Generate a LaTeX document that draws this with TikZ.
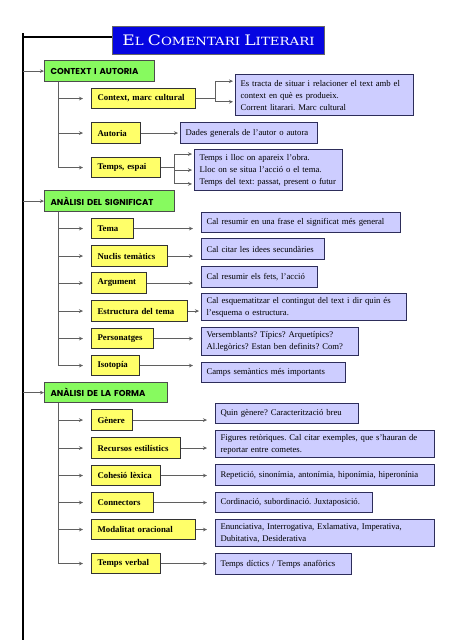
\documentclass[tikz,border=0pt]{standalone}
\usepackage{fontspec}
\setmainfont{Liberation Serif}
\newfontfamily\secfont{Poppins}
\newfontfamily\titlefont{DejaVu Serif}
\usetikzlibrary{arrows.meta,calc}
\definecolor{titlefill}{RGB}{5,5,225}
\definecolor{secfill}{RGB}{135,250,95}
\definecolor{subfill}{RGB}{255,255,105}
\definecolor{notefill}{RGB}{205,205,255}
\definecolor{notedraw}{RGB}{45,45,90}
\definecolor{linegray}{RGB}{95,95,95}
\newcommand{\tcap}[1]{{\fontsize{14.5}{15}\selectfont #1}}
\frenchspacing
\hyphenpenalty=10000
\tikzset{
  titlebox/.style={rectangle,draw=black!60,fill=titlefill,line width=1pt,anchor=north west,minimum width=212,minimum height=28,text=white,font=\titlefont\fontsize{11.3}{12}\selectfont},
  section/.style={rectangle,draw=black!70,fill=secfill,line width=1.2pt,anchor=north west,inner xsep=6pt,inner ysep=2pt,align=left,font=\secfont\bfseries\fontsize{8.6}{10}\selectfont},
  sub/.style={rectangle,draw=black!80,fill=subfill,line width=1.1pt,anchor=north west,inner xsep=6pt,inner ysep=2pt,align=left,font=\bfseries\fontsize{8.8}{10.5}\selectfont},
  note/.style={rectangle,draw=notedraw,fill=notefill,line width=1.1pt,anchor=north west,inner xsep=5pt,inner ysep=2pt,align=left,font=\fontsize{8.7}{12}\selectfont},
  trunk/.style={draw=black,line width=1.2pt},
  conn/.style={draw=linegray,line width=0.9pt},
  tip/.style={conn,-{Stealth[length=4pt,width=3.6pt]}},
  gap/.style={shorten >=8pt},
  near/.style={shorten >=2pt}
}
\begin{document}
\begin{tikzpicture}[x=1pt,y=-1pt]
  \useasboundingbox (0,0) rectangle (452,640);

  % --- Title and main trunk ---
  \node[titlebox] (T) at (112,26) {\scalebox{1.18}[1]{\tcap{E}L \tcap{C}OMENTARI \tcap{L}ITERARI}};
  \coordinate (top) at (23,33);
  \coordinate (bot) at (23,640);
  \coordinate (tj)  at (23,37);
  \draw[trunk] (top) -- (bot);
  \draw[trunk] (tj) -- (tj -| T.west);

  % --- Section headings ---
  \node[section, text width=98,  minimum height=21] (S1) at (44,60)  {CONTEXT I AUTORIA};
  \node[section, text width=118, minimum height=21] (S2) at (44,190) {ANÀLISI DEL SIGNIFICAT};
  \node[section, text width=111, minimum height=20] (S3) at (44,382) {ANÀLISI DE LA FORMA};
  \draw[tip] (top |- S1.west) -- (S1.west);
  \draw[tip] (top |- S2.west) -- (S2.west);
  \draw[tip] (top |- S3.west) -- (S3.west);

  % --- Context i autoria: items ---
  \node[sub, text width=92, minimum height=20] (CM) at (91,88)  {Context, marc cultural};
  \node[sub, text width=37, minimum height=21] (AU) at (91,122) {Autoria};
  \node[sub, text width=57, minimum height=20] (TE) at (91,157) {Temps, espai};

  % --- Context i autoria: notes ---
  \node[note, text width=168, minimum height=41] (ES) at (235,74)  {Es tracta de situar i relacioner el text amb el\\context en què es produeix.\\Corrent litarari. Marc cultural};
  \node[note, text width=127, minimum height=21] (DG) at (180,122) {Dades generals de l’autor o autora};
  \node[note, text width=138, minimum height=41] (TL) at (194,149) {Temps i lloc on apareix l’obra.\\Lloc on se situa l’acció o el tema.\\Temps del text: passat, present o futur};

  % --- Context i autoria: edges ---
  \coordinate (k1) at ($(S1.south west)+(14,0)$);
  \draw[conn] (k1) -- (k1 |- TE.west);
  \draw[tip,gap] (k1 |- CM.west) -- (CM.west);
  \draw[tip,gap] (k1 |- AU.west) -- (AU.west);
  \draw[tip,gap] (k1 |- TE.west) -- (TE.west);
  \draw[conn] (CM.east) -- ++(19,0) coordinate (f1);
  \draw[tip,near] (f1) |- ($(ES.north west)!0.17!(ES.south west)$);
  \draw[tip,near] (f1) |- ($(ES.north west)!0.66!(ES.south west)$);
  \draw[tip,near] (AU.east) -- (AU.east -| DG.west);
  \draw[conn] (TE.east) -- ++(13,0) coordinate (f2);
  \draw[tip,near] (f2) |- ($(TL.north west)!0.12!(TL.south west)$);
  \draw[tip,near] (f2) |- (TL.west);
  \draw[tip,near] (f2) |- ($(TL.north west)!0.83!(TL.south west)$);

  % --- Anàlisi del significat: items ---
  \node[sub, text width=30, minimum height=20] (TM) at (91,218) {Tema};
  \node[sub, text width=64, minimum height=21] (NT) at (91,245) {Nuclis temàtics};
  \node[sub, text width=43, minimum height=21] (AR) at (91,272) {Argument};
  \node[sub, text width=84, minimum height=21] (ET) at (91,300) {Estructura del tema};
  \node[sub, text width=50, minimum height=20] (PS) at (91,328) {Personatges};
  \node[sub, text width=36, minimum height=20] (IS) at (91,355) {Isotopía};

  % --- Anàlisi del significat: notes ---
  \node[note, text width=189, minimum height=20] (N1) at (201,212) {Cal resumir en una frase el significat més general};
  \node[note, text width=113, minimum height=21] (N2) at (201,238) {Cal citar les idees secundàries};
  \node[note, text width=106, minimum height=21] (N3) at (201,266) {Cal resumir els fets, l’acció};
  \node[note, text width=195, minimum height=27] (N4) at (201,293) {Cal esquematitzar el contingut del text i dir quin és\\l’esquema o estructura.};
  \node[note, text width=147, minimum height=28] (N5) at (201,327) {Versemblants? Típics? Arquetípics?\\Al.legòrics? Estan ben definits? Com?};
  \node[note, text width=134, minimum height=20] (N6) at (201,362) {Camps semàntics més importants};

  % --- Anàlisi del significat: edges ---
  \coordinate (k2) at ($(S2.south west)+(14,0)$);
  \draw[conn] (k2) -- (k2 |- IS.west);
  \draw[tip,gap] (k2 |- TM.west) -- (TM.west);
  \draw[tip,gap] (k2 |- NT.west) -- (NT.west);
  \draw[tip,gap] (k2 |- AR.west) -- (AR.west);
  \draw[tip,gap] (k2 |- ET.west) -- (ET.west);
  \draw[tip,gap] (k2 |- PS.west) -- (PS.west);
  \draw[tip,gap] (k2 |- IS.west) -- (IS.west);
  \draw[tip,gap] (TM.east) -- (TM.east -| N1.west);
  \draw[tip,gap] (NT.east) -- (NT.east -| N2.west);
  \draw[tip,gap] (AR.east) -- (AR.east -| N3.west);
  \draw[tip,near] (ET.east) -- (ET.east -| N4.west);
  \draw[tip,gap] (PS.east) -- (PS.east -| N5.west);
  \draw[tip,gap] (IS.east) -- (IS.east -| N6.west);

  % --- Anàlisi de la forma: items ---
  \node[sub, text width=29, minimum height=21] (GE) at (91,409) {Gènere};
  \node[sub, text width=77, minimum height=21] (RE) at (91,437) {Recursos estilístics};
  \node[sub, text width=57, minimum height=20] (CL) at (91,465) {Cohesió lèxica};
  \node[sub, text width=50, minimum height=20] (CN) at (91,492) {Connectors};
  \node[sub, text width=92, minimum height=20] (MO) at (91,519) {Modalitat oracional};
  \node[sub, text width=57, minimum height=20] (TV) at (91,553) {Temps verbal};

  % --- Anàlisi de la forma: notes ---
  \node[note, text width=133, minimum height=20] (M1) at (215,403) {Quin gènere? Caracterització breu};
  \node[note, text width=209, minimum height=27] (M2) at (215,430) {Figures retòriques. Cal citar exemples, que s’hauran de\\reportar entre cometes.};
  \node[note, text width=209, minimum height=21] (M3) at (215,464) {Repetició, sinonímia, antonímia, hiponímia, hiperonínia};
  \node[note, text width=147, minimum height=20] (M4) at (215,492) {Cordinació, subordinació. Juxtaposició.};
  \node[note, text width=209, minimum height=27] (M5) at (215,519) {Enunciativa, Interrogativa, Exlamativa, Imperativa,\\Dubitativa, Desiderativa};
  \node[note, text width=126, minimum height=21] (M6) at (215,553) {Temps díctics / Temps anafòrics};

  % --- Anàlisi de la forma: edges ---
  \coordinate (k3) at ($(S3.south west)+(14,0)$);
  \draw[conn] (k3) -- (k3 |- TV.west);
  \draw[tip,gap] (k3 |- GE.west) -- (GE.west);
  \draw[tip,gap] (k3 |- RE.west) -- (RE.west);
  \draw[tip,gap] (k3 |- CL.west) -- (CL.west);
  \draw[tip,gap] (k3 |- CN.west) -- (CN.west);
  \draw[tip,gap] (k3 |- MO.west) -- (MO.west);
  \draw[tip,gap] (k3 |- TV.west) -- (TV.west);
  \draw[tip,gap] (GE.east) -- (GE.east -| M1.west);
  \draw[tip,gap] (RE.east) -- (RE.east -| M2.west);
  \draw[tip,gap] (CL.east) -- (CL.east -| M3.west);
  \draw[tip,gap] (CN.east) -- (CN.east -| M4.west);
  \draw[tip,gap] (MO.east) -- (MO.east -| M5.west);
  \draw[tip,gap] (TV.east) -- (TV.east -| M6.west);
\end{tikzpicture}
\end{document}
